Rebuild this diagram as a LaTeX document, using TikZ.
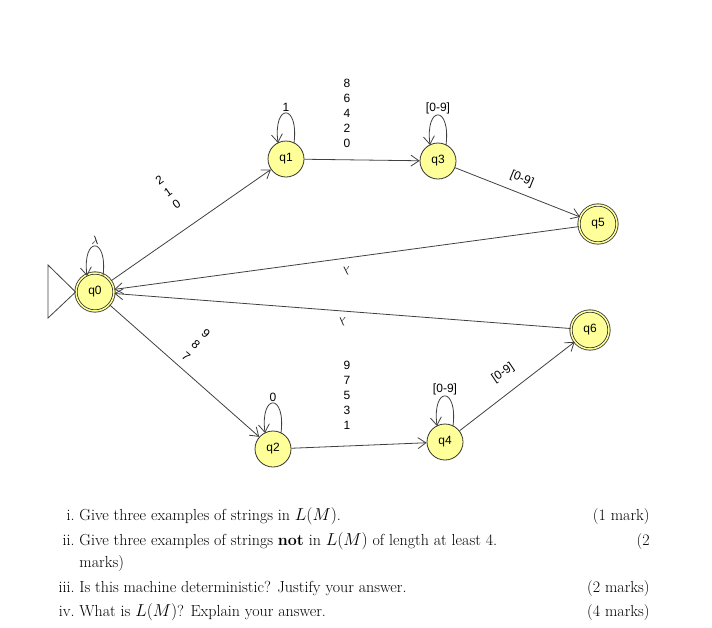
\documentclass[tikz,border=0pt]{standalone}
\usepackage{fontspec}
\newfontfamily\sansf{Liberation Sans}
\usetikzlibrary{arrows.meta}
\definecolor{sy}{HTML}{FFFF99}
\begin{document}
\begin{tikzpicture}[x=1pt,y=-1pt,line width=0.8pt,
 st/.style={circle,draw=black!80,fill=sy,minimum size=36pt,inner sep=0pt,font=\sansf\fontsize{12}{12}\selectfont},
 acc/.style={st,double=sy,double distance=1.5pt,minimum size=38pt},
 tr/.style={draw=black!75,-{Straight Barb[length=8pt,width=11pt]}},
 lb/.style={font=\sansf\fontsize{12}{15}\selectfont,align=center,inner sep=1pt},
 it/.style={anchor=base west,font=\fontsize{16}{18}\selectfont,inner sep=0},
 mk/.style={anchor=base east,font=\fontsize{16}{18}\selectfont,inner sep=0}]
\useasboundingbox (0,0) rectangle (712,627);
\node[acc] (q0) at (95,292) {q0};
\node[st] (q1) at (286,159) {q1};
\node[st] (q3) at (438,161) {q3};
\node[acc] (q5) at (598,224) {q5};
\node[acc] (q6) at (590,330) {q6};
\node[st] (q2) at (273,449) {q2};
\node[st] (q4) at (445,442) {q4};
\coordinate (ta) at (48,265); \coordinate (tb) at (48,318);
\draw[black!75] (ta) -- (q0.west) -- (tb) -- cycle;
\draw[tr] (q0) -- (q1);
\draw[tr] (q0) -- (q2);
\draw[tr] (q1) -- (q3);
\draw[tr] (q2) -- (q4);
\draw[tr] (q3) -- (q5);
\draw[tr] (q4) -- (q6);
\draw[tr] (q5) -- (q0);
\draw[tr] (q6) -- (q0);
\foreach \n/\t in {q0/$\lambda$,q1/1,q3/{[0-9]},q2/0,q4/{[0-9]}}{
 \path (\n.center) ++(-8,-16) coordinate (a\n) (\n.center) ++(8,-16) coordinate (b\n);
 \draw[tr] (b\n) .. controls +(5,-40) and +(-5,-40) .. node[lb,above] {\t} (a\n);}
\node[lb,rotate=35] (l01) at (168,192) {2\\1\\0};
\node[lb,rotate=-41] (l02) at (196,345) {9\\8\\7};
\node[lb] (l13) at (347,113) {8\\6\\4\\2\\0};
\node[lb] (l24) at (347,395) {9\\7\\5\\3\\1};
\node[lb,rotate=-22] (l35) at (522,179) {[0-9]};
\node[lb,rotate=34] (l46) at (503,373) {[0-9]};
\node[lb,rotate=187] (l50) at (347,271) {$\lambda$};
\node[lb,rotate=184] (l60) at (343,322) {$\lambda$};
\begin{scope}[every node/.append style={execute at begin node=\selectfont}]
\node[mk] (n1) at (75,520) {i.};
\node[it] (t1) at (79,520) {Give three examples of strings in $L(M)$.};
\node[mk] (m1) at (650,520) {(1 mark)};
\node[mk] (n2) at (75,545) {ii.};
\node[it] (t2) at (79,545) {Give three examples of strings \textbf{not} in $L(M)$ of length at least 4.};
\node[mk] (m2) at (650,545) {(2};
\node[it] (t2b) at (79,567) {marks)};
\node[mk] (n3) at (75,592) {iii.};
\node[it] (t3) at (79,592) {Is this machine deterministic? Justify your answer.};
\node[mk] (m3) at (650,592) {(2 marks)};
\node[mk] (n4) at (75,616) {iv.};
\node[it] (t4) at (79,616) {What is $L(M)$? Explain your answer.};
\node[mk] (m4) at (650,616) {(4 marks)};
\end{scope}
\end{tikzpicture}
\end{document}
